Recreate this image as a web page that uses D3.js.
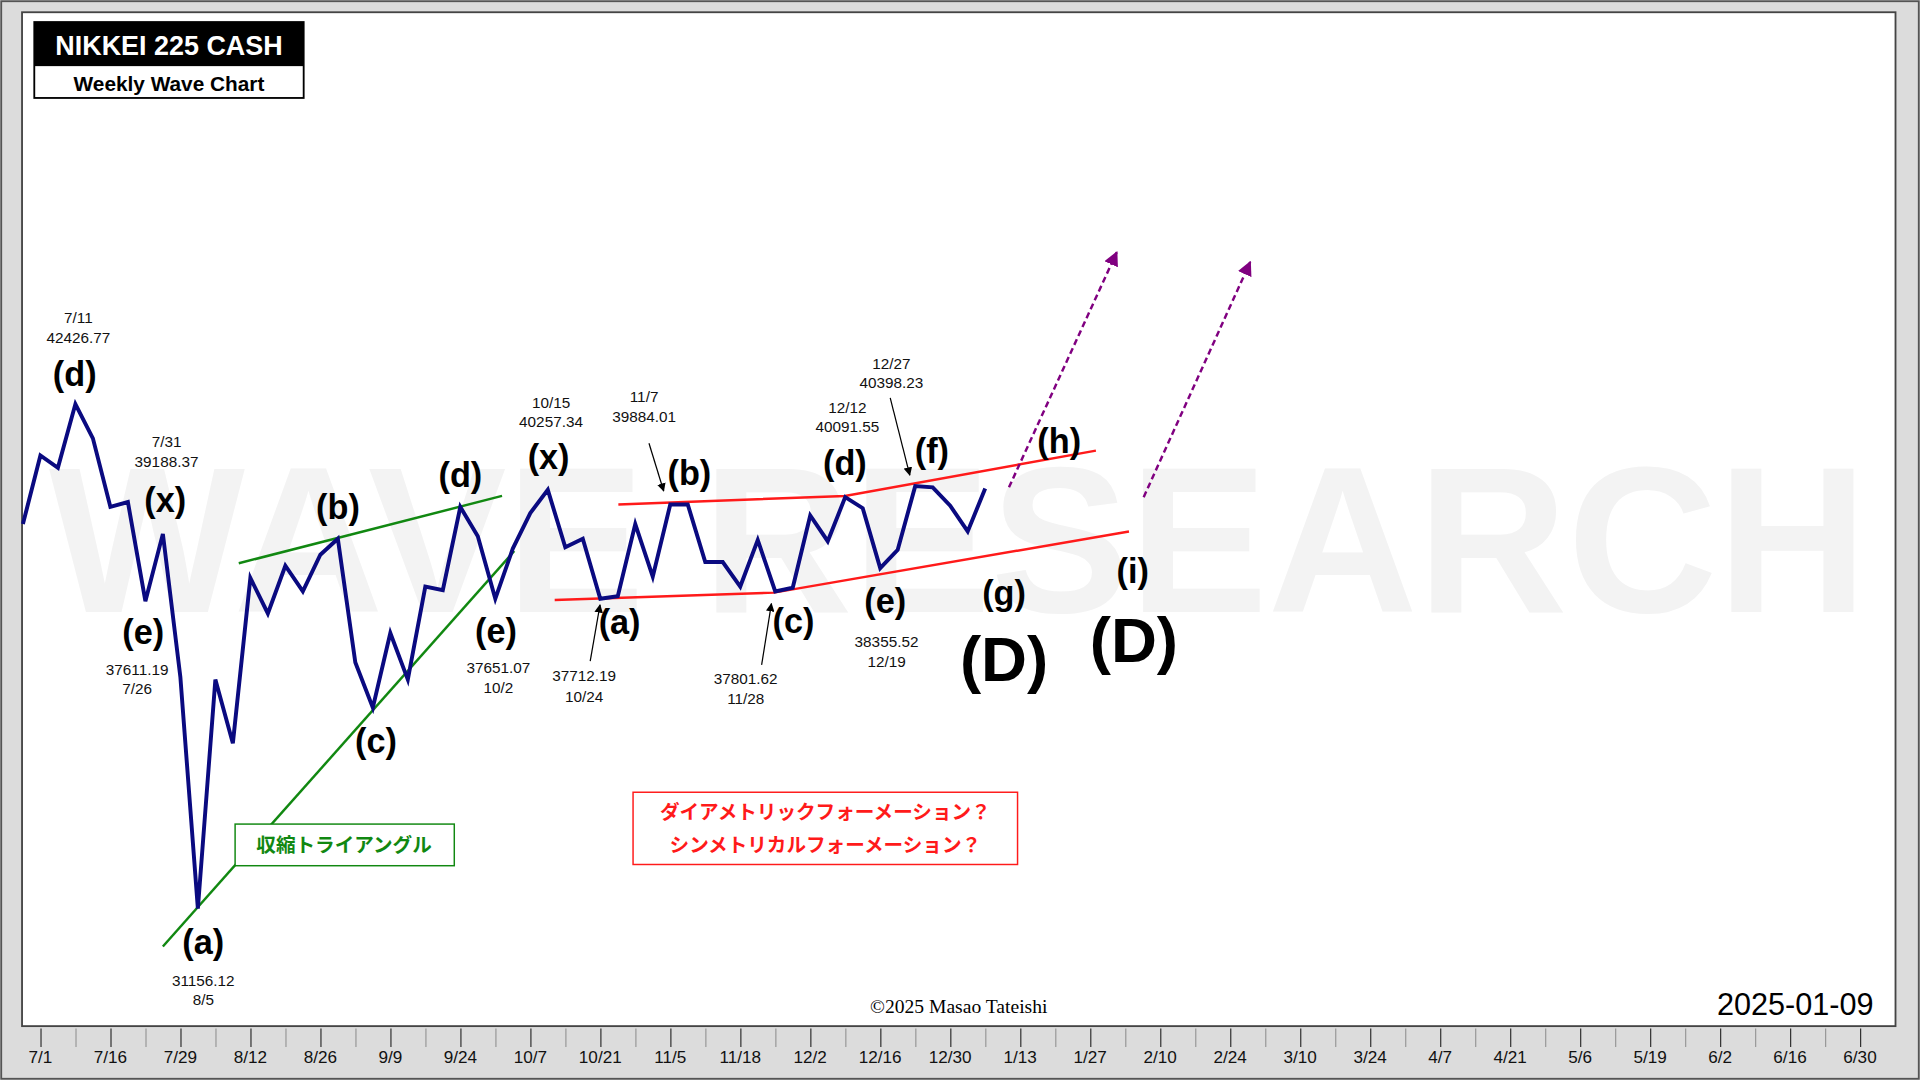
<!DOCTYPE html>
<html><head><meta charset="utf-8">
<script src="https://cdn.jsdelivr.net/npm/d3@7"></script>
<style>body{margin:0;background:#ddd}svg{display:block}</style>
</head><body>
<svg id="chart" width="1920" height="1080" viewBox="0 0 1568 882"></svg>
<script>
// weekly wave, one point every half week, first point half a week before 7/1
var closes = [39747,41278,41004,42427,41661,40129,40239,38023,39527,36327,31156,36272,34850,38543,37750,38816,38242,39062,39418,36655,35643,37312,36272,38351,38269,40129,39473,38078,39199,39992,40512,39227,39418,38078,38133,39747,38570,40184,40184,38898,38898,38351,39391,38242,38324,39938,39363,40348,40102,38761,39172,40594,40567,40156,39582,40539];
var tickLabels = ["7/1","7/16","7/29","8/12","8/26","9/9","9/24","10/7","10/21","11/5","11/18","12/2","12/16","12/30","1/13","1/27","2/10","2/24","3/10","3/24","4/7","4/21","5/6","5/19","6/2","6/16","6/30"];

var svg = d3.select("#chart");
var F = "'Liberation Sans', Arial, sans-serif";

var x = d3.scaleLinear().domain([0, 52]).range([33, 1519]);
var y = d3.scaleLinear().domain([31156.12, 42426.77]).range([742, 330]);

svg.append("rect").attr("width", 1568).attr("height", 882).attr("fill", "#dcdcdc");
svg.append("rect").attr("x", 1).attr("y", 1).attr("width", 1566).attr("height", 880).attr("fill", "none").attr("stroke", "#555").attr("stroke-width", 1.5);
svg.append("rect").attr("x", 18).attr("y", 10).attr("width", 1530).attr("height", 828).attr("fill", "#fff").attr("stroke", "#444").attr("stroke-width", 1.5);

// watermark
svg.append("text").attr("x", 40).attr("y", 500).attr("textLength", 1485).attr("lengthAdjust", "spacingAndGlyphs")
  .attr("font-family", F).attr("font-weight", "bold").attr("font-size", 170).attr("fill", "#f3f3f3").text("WAVE RESEARCH");

// axis
var ax = svg.append("g").attr("transform", "translate(0,840)");
ax.call(d3.axisBottom(x).tickValues(d3.range(0, 53)).tickSize(15).tickFormat(""));
ax.select(".domain").remove();
ax.selectAll("line").attr("stroke", (d, i) => i % 2 ? "#999" : "#333");
ax.selectAll("text").remove();
tickLabels.forEach(function (t, i) {
  svg.append("text").attr("x", x(i * 2)).attr("y", 868).attr("text-anchor", "middle")
    .attr("font-family", F).attr("font-size", 14).attr("fill", "#111").text(t);
});

// trend lines
function seg(pts, col, w, dash) {
  svg.append("path").attr("d", d3.line()(pts)).attr("fill", "none").attr("stroke", col).attr("stroke-width", w).attr("stroke-dasharray", dash || null);
}
seg([[195, 460], [410, 405]], "#118811", 2);
seg([[133, 773], [420, 450]], "#118811", 2);
seg([[505, 412], [690, 405], [895, 368]], "#ff1a1a", 2);
seg([[453, 490], [632, 484], [922, 434]], "#ff1a1a", 2);

var defs = svg.append("defs");
function marker(id, col, s) {
  defs.append("marker").attr("id", id).attr("viewBox", "0 0 10 10").attr("refX", 9).attr("refY", 5)
    .attr("markerWidth", s).attr("markerHeight", s).attr("orient", "auto")
    .append("path").attr("d", "M0,0L10,5L0,10z").attr("fill", col);
}
marker("pa", "#800080", 6);
marker("ka", "#000", 7);
[[[824, 398], [912, 206]], [[934, 406], [1021, 214]]].forEach(function (p) {
  svg.append("path").attr("d", d3.line()(p)).attr("stroke", "#800080").attr("stroke-width", 2)
    .attr("stroke-dasharray", "5,3").attr("marker-end", "url(#pa)");
});
[[[530, 362], [542, 401]], [[482, 540], [490, 494]], [[622, 543], [630, 493]], [[727, 325], [743, 388]]].forEach(function (p) {
  svg.append("path").attr("d", d3.line()(p)).attr("stroke", "#000").attr("stroke-width", 1).attr("marker-end", "url(#ka)");
});

// price line
svg.append("path").datum(closes)
  .attr("d", d3.line().x((d, i) => x((i - 1) / 2)).y(d => y(d)))
  .attr("fill", "none").attr("stroke", "#0a0a80").attr("stroke-width", 3.2).attr("stroke-linejoin", "miter");

// wave labels
var waves = [["(d)",61,315],["(x)",135,418],["(e)",117,526],["(a)",166,779],["(b)",276,424],["(c)",307,615],["(d)",376,398],["(e)",405,525],["(x)",448,383],["(a)",506,518],["(b)",563,396],["(c)",648,517],["(d)",690,388],["(e)",723,501],["(f)",761,378],["(g)",820,494],["(h)",865,370],["(i)",925,476]];
waves.forEach(function (w) {
  svg.append("text").attr("x", w[1]).attr("y", w[2]).attr("text-anchor", "middle")
    .attr("font-family", F).attr("font-weight", "bold").attr("font-size", 28).text(w[0]);
});
[[820, 556], [926, 541]].forEach(function (p) {
  svg.append("text").attr("x", p[0]).attr("y", p[1]).attr("text-anchor", "middle")
    .attr("font-family", F).attr("font-weight", "bold").attr("font-size", 52).text("(D)");
});

var notes = [["7/11",64,264],["42426.77",64,280],["7/31",136,365],["39188.37",136,381],["37611.19",112,551],["7/26",112,567],["31156.12",166,805],["8/5",166,821],["37651.07",407,550],["10/2",407,566],["10/15",450,333],["40257.34",450,349],["11/7",526,328],["39884.01",526,345],["37712.19",477,556],["10/24",477,573],["37801.62",609,559],["11/28",609,575],["12/12",692,337],["40091.55",692,353],["12/27",728,301],["40398.23",728,317],["38355.52",724,528],["12/19",724,545]];
notes.forEach(function (n) {
  svg.append("text").attr("x", n[1]).attr("y", n[2]).attr("text-anchor", "middle")
    .attr("font-family", F).attr("font-size", 12.5).attr("fill", "#111").text(n[0]);
});

// boxes
svg.append("rect").attr("x", 192).attr("y", 673).attr("width", 179).attr("height", 34).attr("fill", "#fff").attr("stroke", "#118811").attr("stroke-width", 1.2);
svg.append("text").attr("x", 281).attr("y", 696).attr("text-anchor", "middle").attr("font-family", "'Noto Sans CJK JP', sans-serif")
  .attr("font-weight", "bold").attr("font-size", 16).attr("fill", "#118811").text("収縮トライアングル");
svg.append("rect").attr("x", 517).attr("y", 647).attr("width", 314).attr("height", 59).attr("fill", "#fff").attr("stroke", "#ff1a1a").attr("stroke-width", 1.2);
["ダイアメトリックフォーメーション？", "シンメトリカルフォーメーション？"].forEach(function (t, i) {
  svg.append("text").attr("x", 674).attr("y", 669 + i * 27).attr("text-anchor", "middle").attr("font-family", "'Noto Sans CJK JP', sans-serif")
    .attr("font-weight", "bold").attr("font-size", 16).attr("fill", "#ff1a1a").text(t);
});

// title
svg.append("rect").attr("x", 28).attr("y", 18).attr("width", 220).attr("height", 62).attr("fill", "#fff").attr("stroke", "#000").attr("stroke-width", 1.5);
svg.append("rect").attr("x", 28).attr("y", 18).attr("width", 220).attr("height", 36).attr("fill", "#000");
svg.append("text").attr("x", 138).attr("y", 45).attr("text-anchor", "middle").attr("font-family", F).attr("font-weight", "bold")
  .attr("font-size", 22).attr("fill", "#fff").text("NIKKEI 225 CASH");
svg.append("text").attr("x", 138).attr("y", 74).attr("text-anchor", "middle").attr("font-family", F).attr("font-weight", "bold")
  .attr("font-size", 17).attr("fill", "#000").text("Weekly Wave Chart");

svg.append("text").attr("x", 783).attr("y", 827).attr("text-anchor", "middle").attr("font-family", "'Liberation Serif', serif")
  .attr("font-size", 16).text("©2025 Masao Tateishi");
svg.append("text").attr("x", 1530).attr("y", 829).attr("text-anchor", "end").attr("font-family", F)
  .attr("font-size", 25).text("2025-01-09");
</script>
</body></html>
